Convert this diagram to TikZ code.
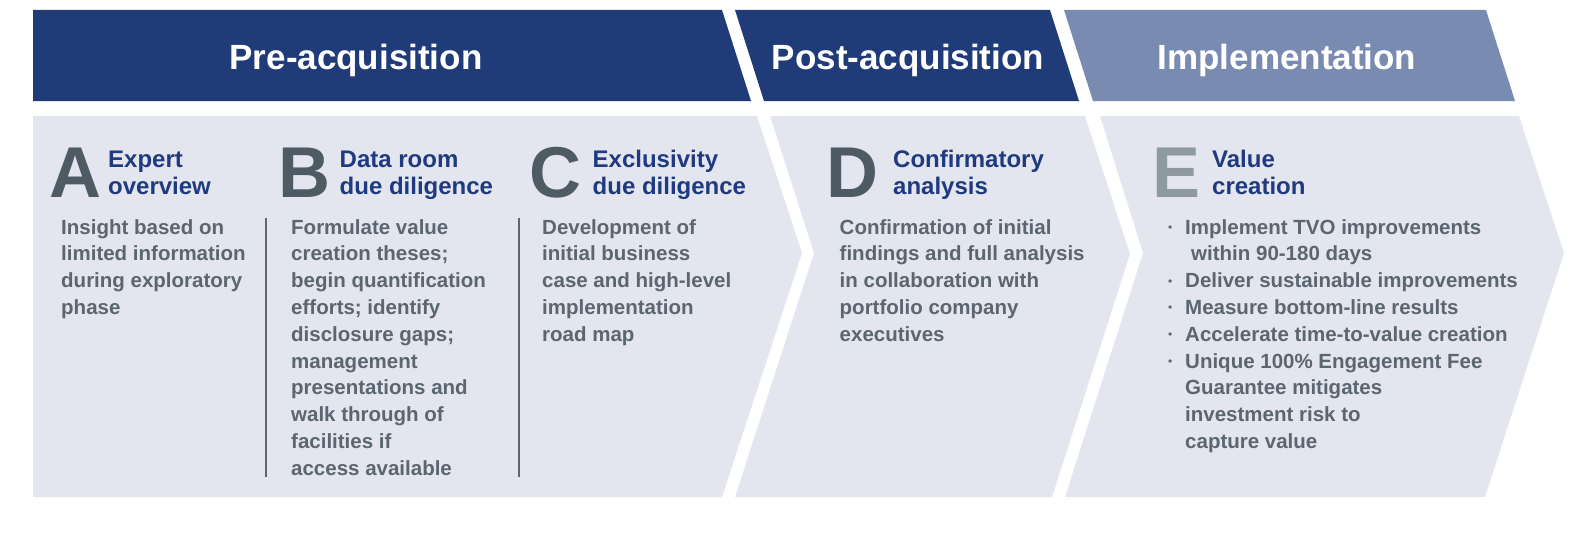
\documentclass[tikz,border=0pt]{standalone}
\usepackage{fontspec}
\setmainfont{Liberation Sans}
\definecolor{navy}{HTML}{1F3B78}
\definecolor{implc}{HTML}{7A8BB2}
\definecolor{panelc}{HTML}{E4E6EF}
\definecolor{letterdark}{HTML}{4F5B64}
\definecolor{letterlight}{HTML}{8F99A1}
\definecolor{headc}{HTML}{1F3A7E}
\definecolor{bodyc}{HTML}{5B6670}
\definecolor{rulec}{HTML}{5F666E}
\tikzset{
  hdrtext/.style={text=white, font=\bfseries\fontsize{35}{40}\selectfont, inner sep=0pt, anchor=base},
  bigletter/.style={font=\bfseries\fontsize{72}{72}\selectfont, inner sep=0pt, anchor=base west},
  headtext/.style={text=headc, font=\bfseries\fontsize{24}{27}\selectfont, inner sep=0pt, anchor=base west},
  bodytext/.style={text=bodyc, font=\bfseries\fontsize{20.5}{26.8}\selectfont, inner sep=0pt, anchor=base west},
  bulletdot/.style={text=bodyc, font=\fontsize{12}{12}\selectfont, inner sep=0pt, anchor=base west},
  divider/.style={draw=rulec, line width=2pt},
}
\begin{document}
\begin{tikzpicture}[x=1pt,y=-1pt]
\useasboundingbox (0,0) rectangle (1593,535);
% header bands
\fill[navy] (33,10) -- (722,10) -- (751,101) -- (33,101) -- cycle;
\fill[navy] (735,10) -- (1050,10) -- (1079,101) -- (764,101) -- cycle;
\fill[implc] (1064,10) -- (1486,10) -- (1515,101) -- (1093,101) -- cycle;
% panels
\fill[panelc] (33,116) -- (757,116) -- (802,253) -- (722,497) -- (33,497) -- cycle;
\fill[panelc] (770,116) -- (1085,116) -- (1130,254) -- (1052,497) -- (735,497) -- (814,253) -- cycle;
\fill[panelc] (1100,116) -- (1519,116) -- (1564,253) -- (1485,497) -- (1065,497) -- (1143,253) -- cycle;
% header texts
\node[hdrtext] (hpre) at (356,70) {Pre-acquisition};
\node[hdrtext] (hpost) at (908,70) {Post-acquisition};
\node[hdrtext] (himpl) at (1287,70) {Implementation};
% big letters
\node[bigletter, text=letterdark] (la) at (49,197) {A};
\node[bigletter, text=letterdark] (lb) at (278,197) {B};
\node[bigletter, text=letterdark] (lc) at (529.5,197) {C};
\node[bigletter, text=letterdark] (ld) at (826.5,197) {D};
\node[bigletter, text=letterlight] (le) at (1152.5,197) {E};
% headings
\node[headtext] (ha1) at (108,167) {Expert};
\node[headtext] (ha2) at (108,194) {overview};
\node[headtext] (hb1) at (339.5,167) {Data room};
\node[headtext] (hb2) at (339.5,194) {due diligence};
\node[headtext] (hc1) at (592.5,167) {Exclusivity};
\node[headtext] (hc2) at (592.5,194) {due diligence};
\node[headtext] (hd1) at (893,167) {Confirmatory};
\node[headtext] (hd2) at (893,194) {analysis};
\node[headtext] (he1) at (1212,167) {Value};
\node[headtext] (he2) at (1212,194) {creation};
% dividers
\draw[divider] (266,218) -- (266,477);
\draw[divider] (519,218) -- (519,477);
% body texts
\foreach \t [count=\i] in {Insight based on, limited information, during exploratory, phase}
  \node[bodytext] (ba\i) at ({61},{234+26.8*(\i-1)}) {\t};
\foreach \t [count=\i] in {Formulate value, creation theses;, begin quantification, efforts; identify, disclosure gaps;, management, presentations and, walk through of, facilities if, access available}
  \node[bodytext] (bb\i) at ({291},{234+26.8*(\i-1)}) {\t};
\foreach \t [count=\i] in {Development of, initial business, case and high-level, implementation, road map}
  \node[bodytext] (bc\i) at ({542},{234+26.8*(\i-1)}) {\t};
\foreach \t [count=\i] in {Confirmation of initial, findings and full analysis, in collaboration with, portfolio company, executives}
  \node[bodytext] (bd\i) at ({839.5},{234+26.8*(\i-1)}) {\t};
% E bullets
\node[bodytext] (be1) at (1185,234) {Implement TVO improvements};
\node[bodytext] (be2) at (1191,260.8) {within 90-180 days};
\node[bodytext] (be3) at (1185,287.6) {Deliver sustainable improvements};
\node[bodytext] (be4) at (1185,314.4) {Measure bottom-line results};
\node[bodytext] (be5) at (1185,341.2) {Accelerate time-to-value creation};
\node[bodytext] (be6) at (1185,368) {Unique 100\% Engagement Fee};
\node[bodytext] (be7) at (1185,394.8) {Guarantee mitigates};
\node[bodytext] (be8) at (1185,421.6) {investment risk to};
\node[bodytext] (be9) at (1185,448.4) {capture value};
\node[bulletdot] (d1) at (1168,231.5) {•};
\node[bulletdot] (d3) at (1168,285.1) {•};
\node[bulletdot] (d4) at (1168,311.9) {•};
\node[bulletdot] (d5) at (1168,338.7) {•};
\node[bulletdot] (d6) at (1168,365.5) {•};
\end{tikzpicture}
\end{document}
